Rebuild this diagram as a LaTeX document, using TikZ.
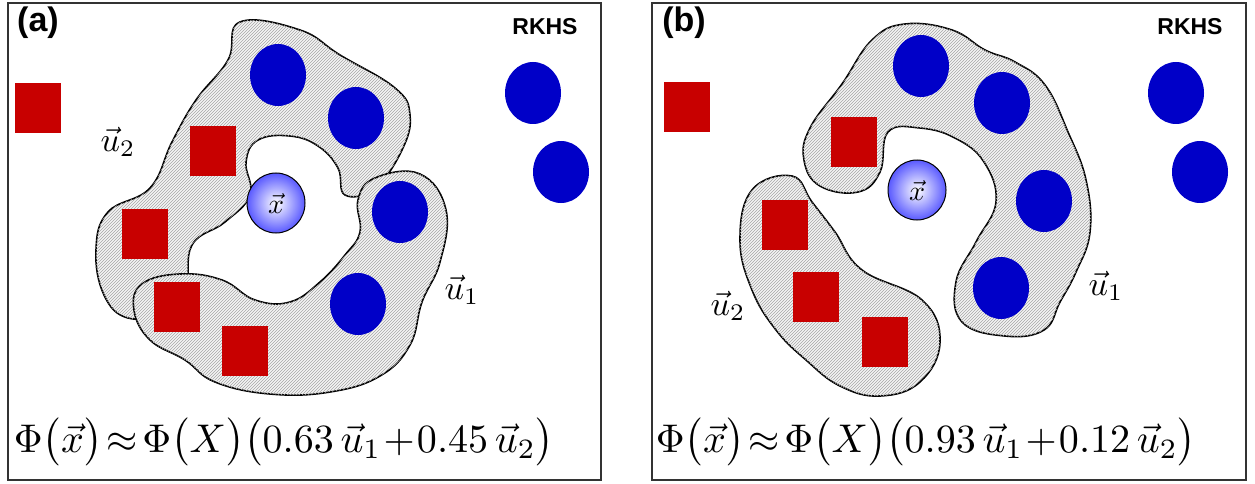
\documentclass[tikz,border=0pt]{standalone}
\usepackage{fontspec}
\newfontfamily\sansb{Liberation Sans}
\usetikzlibrary{patterns,shapes.geometric}
\definecolor{myred}{RGB}{200,0,0}
\definecolor{myblue}{RGB}{0,0,200}
\begin{document}
\begin{tikzpicture}[x=1pt,y=-1pt,
  frame/.style={draw=black!80,line width=1.2pt},
  sq/.style={fill=myred,minimum width=46pt,minimum height=50pt,inner sep=0pt,draw=none},
  dot/.style={ellipse,fill=myblue,minimum width=56pt,minimum height=62pt,inner sep=0pt,draw=none},
  blob/.style={draw=black,line width=1.6pt,fill=gray!8,postaction={pattern=north east lines,pattern color=gray!70}},
  xnode/.style={ellipse,draw=black,line width=1pt,inner color=white,outer color=blue!65,minimum width=58pt,minimum height=60pt,inner sep=0pt},
  lab/.style={inner sep=0pt},
  tag/.style={font=\sansb\bfseries\fontsize{34}{34}\selectfont},
  rk/.style={font=\sansb\bfseries\fontsize{23}{23}\selectfont},
  eq/.style={inner sep=0pt}]
\useasboundingbox (0,0) rectangle (1255,484);
% panel a
\draw[frame] (8,3) rectangle (601,480);
\node[tag] (ta) at (38,23) {(a)};
\node[rk] (ra) at (545,27) {RKHS};
\draw[blob] plot[smooth cycle,tension=0.7] coordinates {(240,22) (300,30) (340,55) (395,88) (410,115) (402,150) (375,188) (345,195) (338,168) (318,146) (290,136) (258,140) (246,162) (250,195) (225,222) (192,245) (186,290) (165,312) (128,318) (104,295) (96,250) (108,212) (150,188) (172,142) (196,100) (228,60)};
\draw[blob] plot[smooth cycle,tension=0.7] coordinates {(375,178) (420,174) (446,210) (440,262) (422,302) (410,345) (380,376) (330,392) (270,394) (215,382) (185,360) (150,340) (134,310) (142,284) (180,274) (222,280) (255,300) (290,302) (320,282) (345,255) (360,232) (358,200)};
\node[sq] (a0) at (38,108) {};
\node[sq] (a1) at (213,151) {};
\node[sq] (a2) at (145,234) {};
\node[sq] (a3) at (177,307) {};
\node[sq] (a4) at (245,351) {};
\node[dot] (b1) at (278,75) {};
\node[dot] (b2) at (356,118) {};
\node[dot] (b3) at (533,93) {};
\node[dot] (b4) at (561,172) {};
\node[dot] (b5) at (400,212) {};
\node[dot] (b6) at (358,304) {};
\node[xnode] (xa) at (276,203) {\scalebox{2.8}{$\vec{x}$}};
\node[lab] (u2a) at (118,142) {\scalebox{3.4}{$\vec{u}_2$}};
\node[lab] (u1a) at (462,290) {\scalebox{3.4}{$\vec{u}_1$}};
\node[eq] (ea) at (284,442) {\resizebox{540pt}{!}{$\Phi\big(\vec{x}\big)\!\approx\!\Phi\big(X\big)\big(0.63\,\vec{u}_1\!+\!0.45\,\vec{u}_2\big)$}};
% panel b
\draw[frame] (652,3) rectangle (1246,480);
\node[tag] (tb) at (684,23) {(b)};
\node[rk] (rb) at (1190,27) {RKHS};
\draw[blob] plot[smooth cycle,tension=0.7] coordinates {(810,128) (842,84) (872,40) (905,24) (952,30) (985,50) (1015,62) (1045,85) (1068,132) (1086,180) (1090,232) (1076,272) (1060,302) (1044,330) (1005,336) (962,322) (956,282) (976,242) (996,202) (984,162) (955,138) (920,128) (888,132) (880,172) (858,192) (820,186) (804,160)};
\draw[blob] plot[smooth cycle,tension=0.7] coordinates {(752,190) (792,176) (812,202) (835,232) (862,270) (922,300) (940,342) (920,382) (880,396) (840,386) (806,360) (776,330) (752,290) (740,240)};
\node[sq] (c0) at (687,107) {};
\node[sq] (c1) at (854,142) {};
\node[sq] (c2) at (785,225) {};
\node[sq] (c3) at (816,297) {};
\node[sq] (c4) at (885,342) {};
\node[dot] (d1) at (921,66) {};
\node[dot] (d2) at (1002,103) {};
\node[dot] (d3) at (1176,93) {};
\node[dot] (d4) at (1200,172) {};
\node[dot] (d5) at (1044,201) {};
\node[dot] (d6) at (1001,288) {};
\node[xnode] (xb) at (917,190) {\scalebox{2.8}{$\vec{x}$}};
\node[lab] (u2b) at (728,306) {\scalebox{3.4}{$\vec{u}_2$}};
\node[lab] (u1b) at (1106,286) {\scalebox{3.4}{$\vec{u}_1$}};
\node[eq] (eb) at (926,442) {\resizebox{540pt}{!}{$\Phi\big(\vec{x}\big)\!\approx\!\Phi\big(X\big)\big(0.93\,\vec{u}_1\!+\!0.12\,\vec{u}_2\big)$}};
\end{tikzpicture}
\end{document}
